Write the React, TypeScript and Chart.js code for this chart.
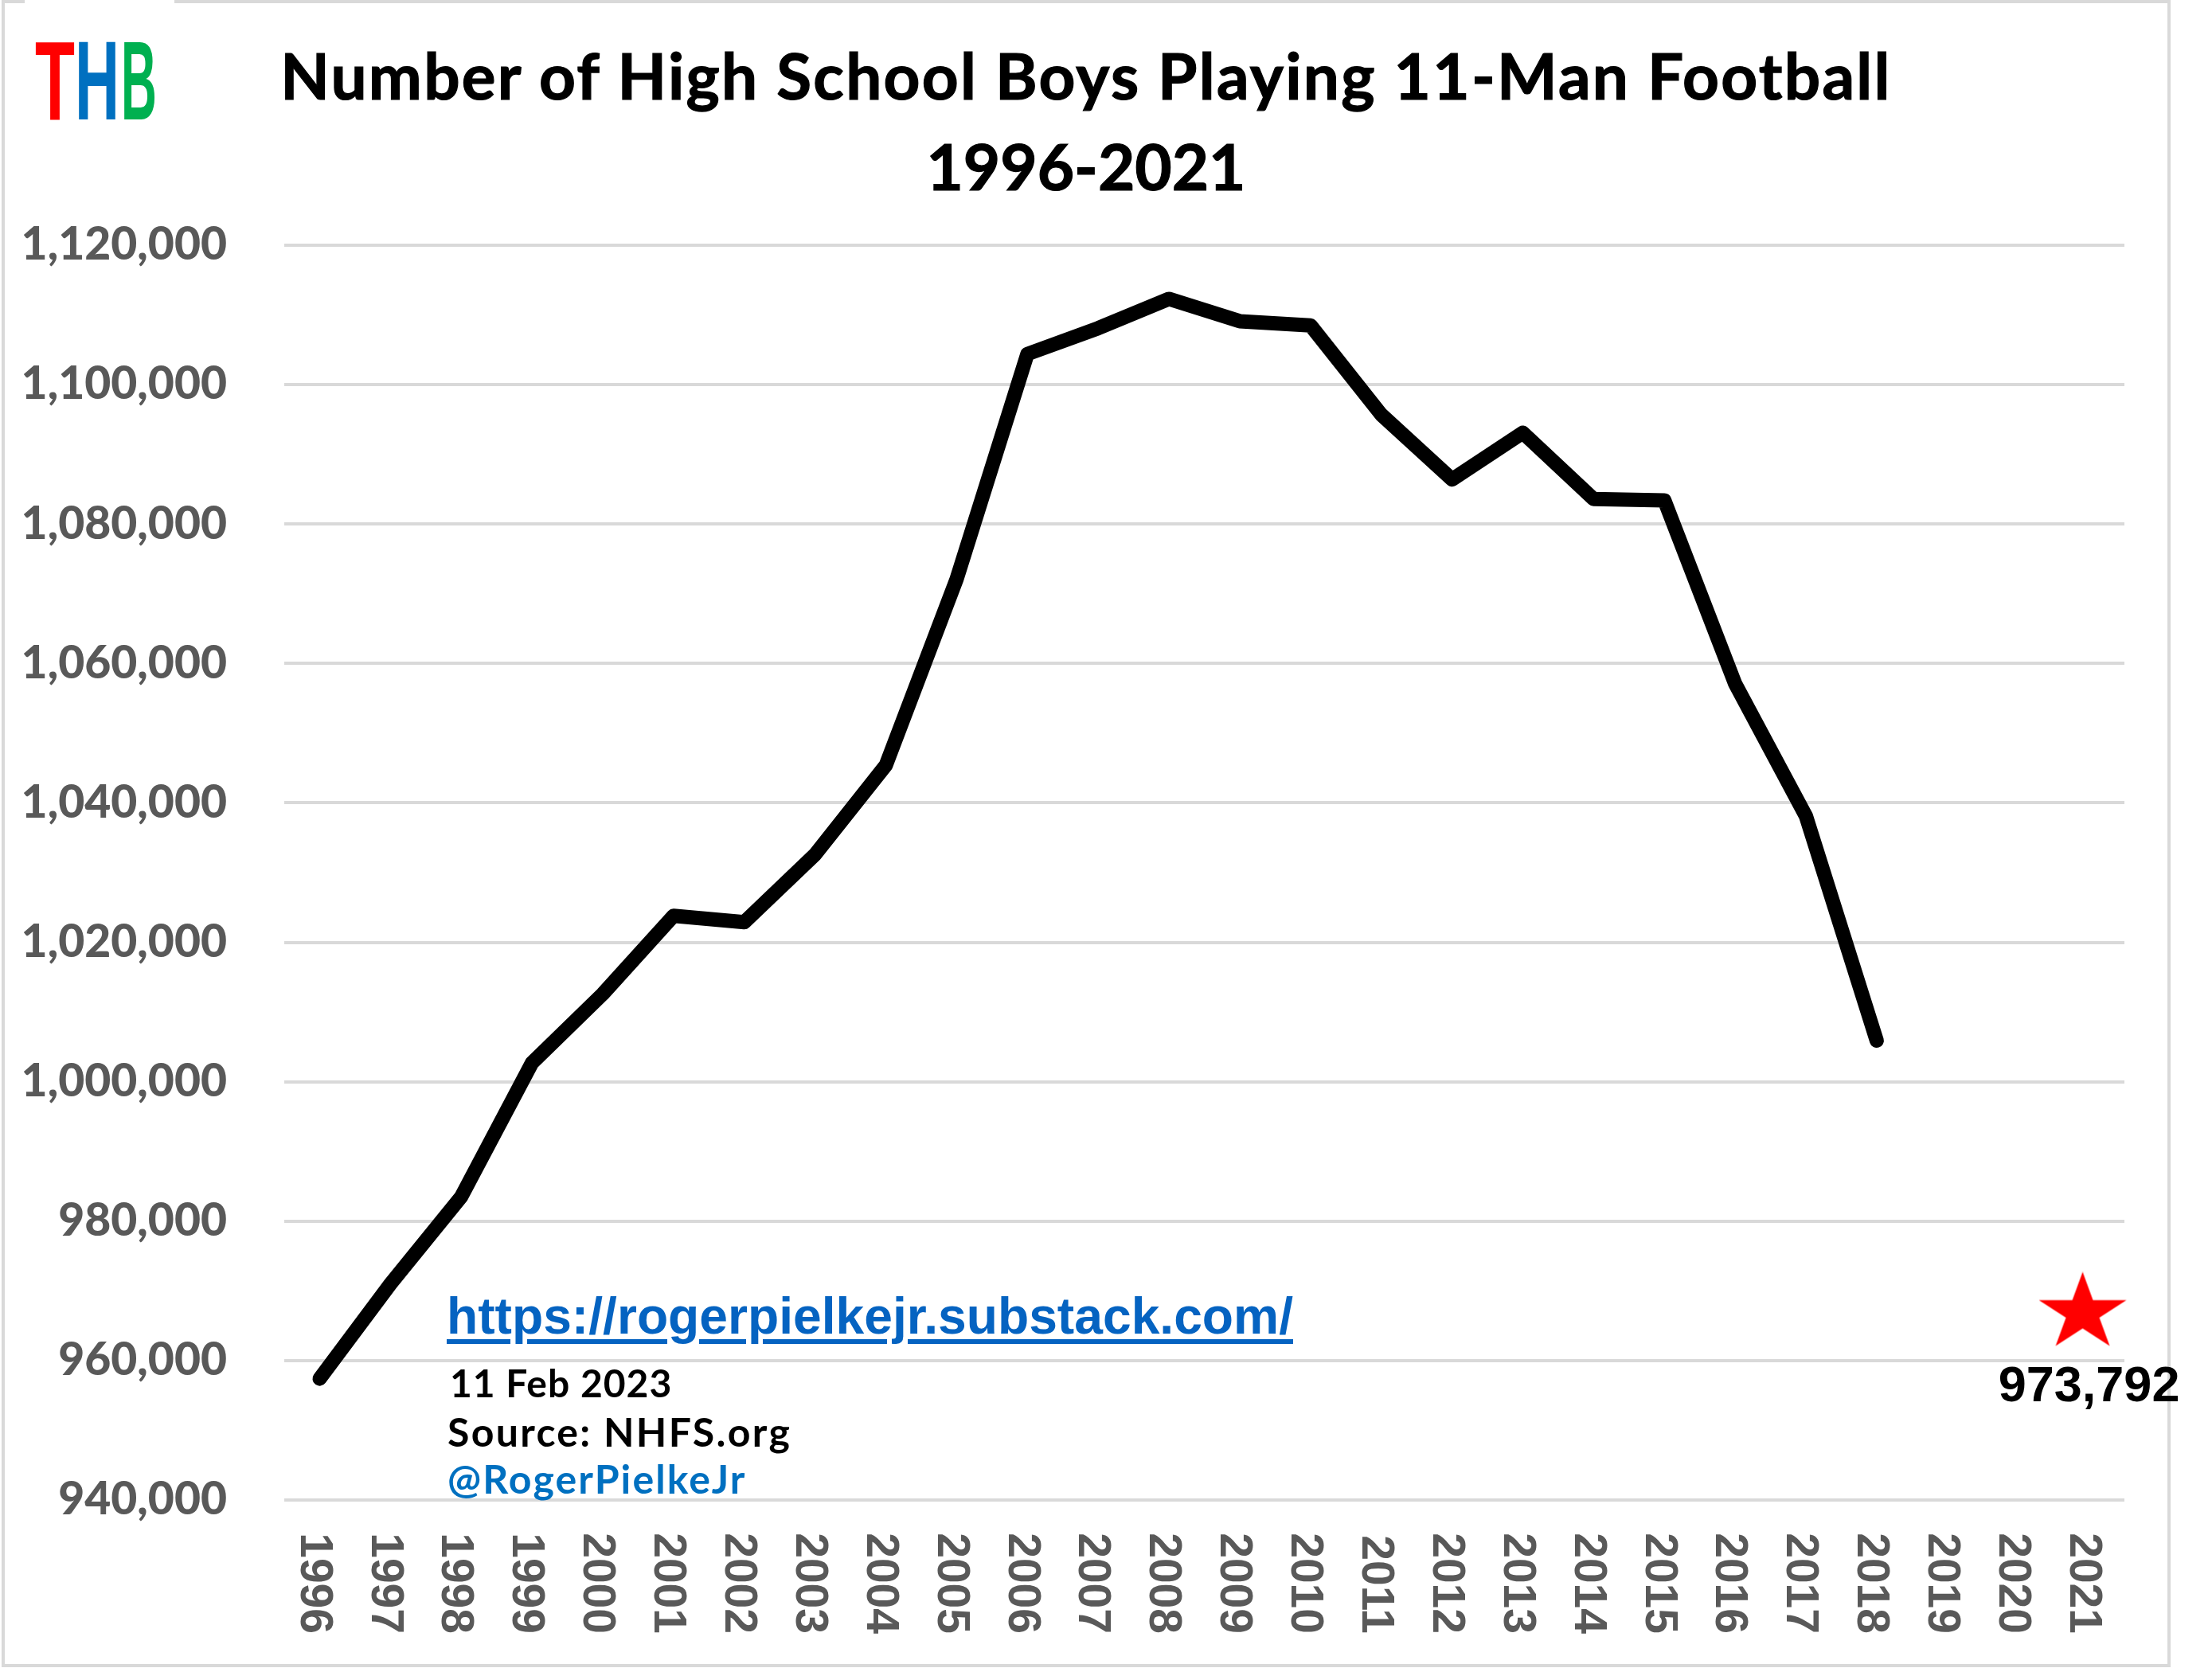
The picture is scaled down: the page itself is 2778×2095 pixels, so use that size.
import { useEffect, useRef } from "react";
import type { CSSProperties } from "react";
import { Chart, registerables } from "chart.js";

Chart.register(...registerables);

const years = [
  "1996", "1997", "1998", "1999", "2000", "2001", "2002", "2003", "2004",
  "2005", "2006", "2007", "2008", "2009", "2010", "2011", "2012", "2013",
  "2014", "2015", "2016", "2017", "2018", "2019", "2020", "2021",
];

// no data after 2018 on the line
const players = [
  957400, 971000, 983500, 1002700, 1012600, 1023800, 1022900, 1032600, 1045400,
  1072100, 1104400, 1108100, 1112300, 1109100, 1108500, 1095700, 1086400, 1093100,
  1083600, 1083400, 1057100, 1038100, 1005900, null, null, null,
];

// the star sits lower than its printed value in the original
const starValues = [
  null, null, null, null, null, null, null, null, null, null, null, null, null,
  null, null, null, null, null, null, null, null, null, null, null, null, 967360,
];
const starLabel = "973,792";

const titleLines = ["Number of High School Boys Playing 11-Man Football", "1996-2021"];

const GRID = "#D9D9D9";
const TICK = "#595959";

// 5 point star, a bit wider than a regular one. Blank on the right so it lands left of the tick.
function makeStar() {
  const c = document.createElement("canvas");
  c.width = 126;
  c.height = 94;
  const ctx = c.getContext("2d");
  if (!ctx) return c;
  const rx = 57.8;
  const ry = 51.4;
  ctx.fillStyle = "#FF0000";
  ctx.beginPath();
  for (let i = 0; i < 10; i++) {
    const a = (i * Math.PI) / 5;
    const r = i % 2 ? 0.382 : 1;
    const x = 55 + rx * r * Math.sin(a);
    const y = ry - ry * r * Math.cos(a);
    if (i === 0) ctx.moveTo(x, y);
    else ctx.lineTo(x, y);
  }
  ctx.closePath();
  ctx.fill();
  return c;
}

const starLabelPlugin = {
  id: "starLabel",
  afterDatasetsDraw(chart: any) {
    const pt = chart.getDatasetMeta(1).data[years.length - 1];
    if (!pt) return;
    const ctx = chart.ctx;
    ctx.save();
    ctx.font = 'bold 63px "Liberation Sans"';
    ctx.fillStyle = "#000";
    ctx.textAlign = "center";
    ctx.textBaseline = "alphabetic";
    ctx.fillText(starLabel, pt.x, pt.y + 116);
    ctx.restore();
  },
};

const abs: CSSProperties = { position: "absolute", whiteSpace: "nowrap", margin: 0 };
const lato = "Lato, sans-serif";
const arial = '"Liberation Sans", Arial, sans-serif';

function letter(ch: string, left: number, color: string, sx: number) {
  return (
    <span
      style={{
        ...abs,
        left,
        top: 31,
        fontFamily: arial,
        fontWeight: 700,
        fontSize: 141,
        lineHeight: "141px",
        color,
        transform: `scaleX(${sx})`,
        transformOrigin: "left top",
      }}
    >
      {ch}
    </span>
  );
}

export default function App() {
  const canvasRef = useRef<HTMLCanvasElement>(null);

  useEffect(() => {
    if (!canvasRef.current) return;
    const chart = new Chart(canvasRef.current, {
      type: "line",
      data: {
        labels: years,
        datasets: [
          {
            data: players,
            borderColor: "#000",
            borderWidth: 18,
            borderCapStyle: "round",
            borderJoinStyle: "round",
            pointRadius: 0,
            tension: 0,
          },
          {
            data: starValues,
            showLine: false,
            pointStyle: makeStar(),
            pointRadius: 5,
          },
        ],
      } as any,
      plugins: [starLabelPlugin],
      options: {
        responsive: false,
        devicePixelRatio: 1,
        animation: false,
        layout: { padding: { top: 308, right: 110, left: 0, bottom: 0 } },
        plugins: { legend: { display: false }, tooltip: { enabled: false }, title: { display: false } },
        scales: {
          x: {
            type: "category",
            offset: true,
            grid: { display: false, drawTicks: false },
            border: { display: false },
            afterFit: (s: any) => {
              s.height = 211;
            },
            ticks: {
              autoSkip: false,
              minRotation: -90,
              maxRotation: -90,
              // rotated labels are right aligned, so the padding reaches their far end
              padding: 168,
              labelOffset: -8,
              color: TICK,
              font: { family: "Liberation Sans", size: 57, weight: "bold" },
            },
          },
          y: {
            min: 940000,
            max: 1120000,
            grid: { color: GRID, lineWidth: 4, drawTicks: false },
            border: { display: false },
            afterFit: (s: any) => {
              s.width = 357;
            },
            ticks: {
              stepSize: 20000,
              padding: 72,
              color: TICK,
              font: { family: "Lato", size: 57, weight: "900" },
              callback: (v: any) => Number(v).toLocaleString("en-US"),
            },
          },
        },
      },
    } as any);
    return () => chart.destroy();
  }, []);

  return (
    <div style={{ position: "absolute", left: 0, top: 0, width: 2778, height: 2095, overflow: "hidden", background: "#fff" }}>
      <div
        style={{
          position: "absolute",
          left: 2,
          top: 0,
          width: 2724,
          height: 2094,
          boxSizing: "border-box",
          border: `4px solid ${GRID}`,
        }}
      />
      <div style={{ position: "absolute", left: 31, top: 0, width: 188, height: 5, background: "#fff" }} />

      {letter("T", 44, "#FF0000", 0.58)}
      {letter("H", 94, "#0070C0", 0.55)}
      {letter("B", 152, "#00B050", 0.44)}

      {titleLines.map((line, i) => (
        <div
          key={line}
          style={{
            ...abs,
            left: 0,
            width: 2728,
            textAlign: "center",
            top: i === 0 ? 54 : 168,
            fontFamily: lato,
            fontWeight: 700,
            fontSize: 80,
            lineHeight: "80px",
            letterSpacing: i === 0 ? 2.3 : 0,
            WebkitTextStroke: "1.2px #000",
            color: "#000",
          }}
        >
          {line}
        </div>
      ))}

      <canvas ref={canvasRef} width={2778} height={2095} style={{ position: "absolute", left: 0, top: 0 }} />

      <div
        style={{
          ...abs,
          left: 561,
          top: 1621,
          fontFamily: arial,
          fontWeight: 700,
          fontSize: 64.2,
          lineHeight: "64px",
          color: "#0563C1",
          textDecoration: "underline",
          textDecorationThickness: 6,
          textUnderlineOffset: 7,
        }}
      >
        https://rogerpielkejr.substack.com/
      </div>
      <div style={{ ...abs, left: 565, top: 1713, fontFamily: lato, fontWeight: 700, fontSize: 48, lineHeight: "48px", letterSpacing: 1, color: "#000" }}>
        11 Feb 2023
      </div>
      <div style={{ ...abs, left: 562, top: 1773, fontFamily: lato, fontWeight: 700, fontSize: 50, lineHeight: "50px", letterSpacing: 2.3, color: "#000" }}>
        Source: NHFS.org
      </div>
      <div style={{ ...abs, left: 562, top: 1832, fontFamily: lato, fontWeight: 700, fontSize: 50, lineHeight: "50px", letterSpacing: 2.1, color: "#0070C0" }}>
        @RogerPielkeJr
      </div>
    </div>
  );
}
